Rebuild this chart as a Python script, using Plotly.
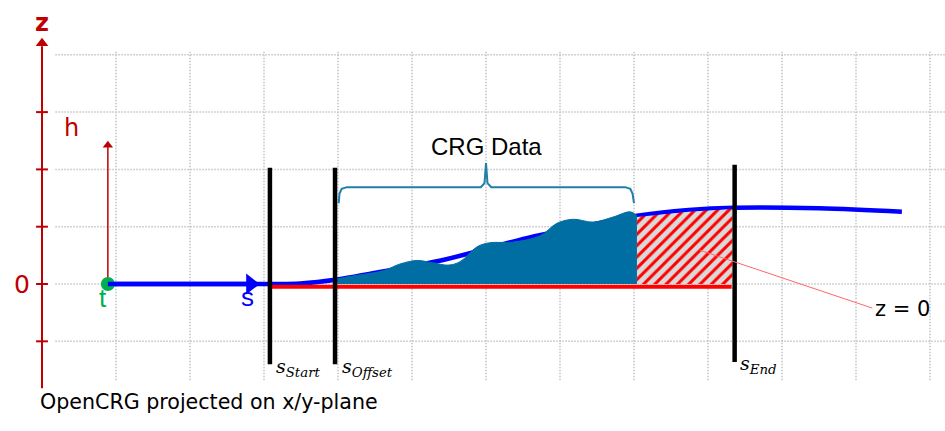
import plotly.graph_objects as go

# grid positions, one cell = 1 unit
s_ticks = [0, 1, 2, 3, 4, 5, 6, 7, 8, 9, 10, 11]
z_ticks = [-1, 0, 1, 2, 3, 4]
z_axis_ticks = [-1, 0, 1, 2, 3]

# reference line
road_s = [-0.11, 2.08, 2.49, 2.99, 3.47, 4.42, 5.55, 6.30, 7.04, 7.74, 8.36, 9.50, 10.62]
road_z = [0, 0, 0.01, 0.08, 0.19, 0.42, 0.80, 1.00, 1.19, 1.29, 1.33, 1.32, 1.26]

# CRG surface
crg_s = [2.99, 3.20, 3.61, 3.84, 4.07, 4.28, 4.49, 4.65, 4.88, 5.05, 5.36, 5.73, 5.96, 6.18, 6.45, 6.72, 6.95, 7.04]
crg_z = [0.09, 0.14, 0.23, 0.35, 0.41, 0.37, 0.33, 0.39, 0.65, 0.72, 0.73, 0.84, 1.06, 1.13, 1.08, 1.17, 1.26, 1.19]

# hatched part behind the data
hatch_s = [7.04, 7.74, 8.33]
hatch_z = [1.17, 1.26, 1.31]

# z = 0 line
zero_s = [2.08, 8.32]
zero_z = [-0.05, -0.05]

# s limits
limit_s = [2.08, 2.96, 8.36]
limit_bottom = [-1.40, -1.40, -1.36]
limit_top = [2.03, 2.03, 2.08]

brace_s = [3.01, 3.02, 3.05, 3.12, 4.93, 4.98, 5.00, 5.02, 5.07, 6.88, 6.95, 6.98, 7.00]
brace_z = [1.41, 1.58, 1.66, 1.69, 1.69, 1.76, 2.11, 1.76, 1.69, 1.69, 1.66, 1.58, 1.41]

leader_s = [7.89, 10.22]
leader_z = [0.59, -0.42]

GRID = "#c4c4c4"
RED = "#c00000"
BLUE = "#0000ff"

fig = go.Figure()


def add_line(x, y, color, width, dash=None, shape="linear"):
    fig.add_trace(go.Scatter(x=x, y=y, mode="lines", hoverinfo="skip",
                             line=dict(color=color, width=width, dash=dash, shape=shape)))


def add_marker(x, y, color, symbol, size):
    fig.add_trace(go.Scatter(x=[x], y=[y], mode="markers", hoverinfo="skip",
                             marker=dict(color=color, symbol=symbol, size=size)))


def add_text(x, y, text, color="black", size=20, family="DejaVu Sans", anchor="center"):
    fig.add_annotation(x=x, y=y, text=text, showarrow=False, xanchor=anchor,
                       font=dict(color=color, size=size, family=family))


# grid
for s in s_ticks:
    add_line([s, s], [-1.68, 4.08], GRID, 1.5, "1.5px,1.5px")
for z in z_ticks:
    add_line([-0.82, 11.2], [z, z], GRID, 1.5, "1.5px,1.5px")

# z axis with ticks
add_line([-1, -1], [-1.82, 4.15], RED, 2)
add_marker(-1, 4.2, RED, "triangle-up", 11)
for z in z_axis_ticks:
    add_line([-1.08, -0.92], [z, z], RED, 2)

# h axis
add_line([-0.11, -0.11], [0, 2.4], RED, 1.5)
add_marker(-0.11, 2.42, RED, "triangle-up", 9)

# hatch, surface, road
fig.add_trace(go.Scatter(x=road_s, y=road_z, mode="lines", hoverinfo="skip",
                         line=dict(color=BLUE, width=4.5, shape="spline")))
fig.add_trace(go.Scatter(x=hatch_s, y=hatch_z, mode="none", hoverinfo="skip", fill="tozeroy",
                         fillcolor="#d9d9d9",
                         fillpattern=dict(shape="/", bgcolor="#d9d9d9", fgcolor="#ff0000",
                                          fgopacity=1, size=8, solidity=0.38)))
fig.add_trace(go.Scatter(x=crg_s, y=crg_z, mode="lines", hoverinfo="skip", fill="tozeroy",
                         fillcolor="#006ea3", line=dict(color="#006ea3", width=1, shape="spline")))
add_line(zero_s, zero_z, "#ff0000", 4)

add_marker(-0.11, 0, "#00b050", "circle", 14)
add_line([-0.11, 1.9], [0, 0], BLUE, 4.5)
add_marker(1.82, 0, BLUE, "triangle-right", 18)

for s, bottom, top in zip(limit_s, limit_bottom, limit_top):
    add_line([s, s], [bottom, top], "black", 4.5)

add_line(brace_s, brace_z, "#1f7fa8", 2)
add_line(leader_s, leader_z, "#ff6666", 1)

# labels
add_text(-1, 4.55, "<b>z</b>", RED, 24)
add_text(-0.6, 2.73, "h", RED, 24)
add_text(-1.27, 0, "0", RED, 25)
add_text(-0.17, -0.25, "t", "#00b050", 26, "Liberation Sans")
add_text(1.78, -0.22, "s", BLUE, 26, "Liberation Sans")
add_text(5.0, 2.4, "CRG Data", "black", 24, "Liberation Sans")
add_text(10.63, -0.44, "z = 0", "black", 21)
add_text(-1.05, -2.06, "OpenCRG projected on x/y-plane", "black", 20.6, anchor="left")
add_text(2.14, -1.45, "<i>s<sub>Start</sub></i>", "black", 19, "DejaVu Serif", "left")
add_text(3.03, -1.45, "<i>s<sub>Offset</sub></i>", "black", 19, "DejaVu Serif", "left")
add_text(8.40, -1.40, "<i>s<sub>End</sub></i>", "black", 19, "DejaVu Serif", "left")

fig.update_layout(
    width=945, height=431,
    margin=dict(l=0, r=0, t=0, b=0),
    plot_bgcolor="white", paper_bgcolor="white",
    showlegend=False,
    xaxis=dict(range=[-1.5676, 11.2027], visible=False),
    yaxis=dict(range=[-2.565, 4.956], visible=False),
)

# the page has a default body margin, drop it so the figure fills the window
fig.write_html("out.html", config={"displayModeBar": False},
               post_script="document.body.style.margin = '0';")
